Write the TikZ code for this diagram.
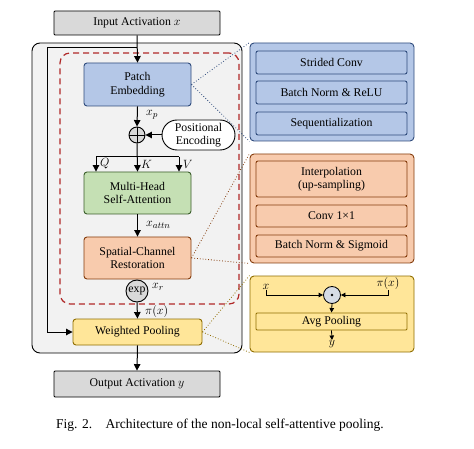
\documentclass[tikz,border=0pt]{standalone}
\usepackage{fontspec}
\setmainfont{Liberation Serif}
\usetikzlibrary{arrows.meta,calc}
\definecolor{blueF}{HTML}{B4C7E7}
\definecolor{blueD}{HTML}{2F4B7C}
\definecolor{greenF}{HTML}{C5E0B4}
\definecolor{greenD}{HTML}{3B5E2B}
\definecolor{orF}{HTML}{F8CBAD}
\definecolor{orD}{HTML}{843C0C}
\definecolor{yeF}{HTML}{FFE699}
\definecolor{yeD}{HTML}{8F6D00}
\definecolor{grayF}{HTML}{D9D9D9}
\definecolor{bgF}{HTML}{F2F2F2}
\definecolor{redD}{HTML}{B02828}
\definecolor{dotF}{HTML}{D6DCE5}
\begin{document}
\begin{tikzpicture}[x=1pt,y=-1pt,
  txt/.style={font=\fontsize{11.8}{13.5}\selectfont},
  blk/.style={draw, rounded corners=3pt, line width=0.9pt, align=center, inner sep=0pt, txt},
  sub/.style={draw, rounded corners=2pt, line width=0.9pt, align=center, inner sep=0pt, txt, minimum width=151pt},
  arr/.style={-{Triangle[length=6.5pt,width=6.5pt]}, line width=1pt},
  sarr/.style={-{Triangle[length=4.5pt,width=4.5pt]}, line width=0.8pt},
  lnk/.style={dotted, line width=0.8pt},
  lab/.style={inner sep=0pt, anchor=west, font=\fontsize{12.5}{13}\selectfont}
]
\useasboundingbox (0,0) rectangle (474,449);
% background boxes
\node[draw, line width=0.9pt, rounded corners=8pt, fill=bgF, minimum width=210pt, minimum height=310pt, inner sep=0pt] (outer) at (137,198) {};
\node[draw=redD, dash pattern=on 6pt off 4pt, line width=1.2pt, rounded corners=10pt, minimum width=179pt, minimum height=251pt, inner sep=0pt] (red) at (149.5,178.5) {};
% main column
\node[blk, fill=grayF, rounded corners=1pt, minimum width=166pt, minimum height=24pt] (in) at (137,23) {Input Activation $x$};
\node[blk, fill=blueF, draw=blueD, minimum width=107pt, minimum height=43pt] (pe) at (137.5,84.5) {Patch\\Embedding};
\node[draw, line width=0.9pt, circle, fill=grayF, minimum size=16pt, inner sep=0pt,
  path picture={\draw[line width=0.7pt] (path picture bounding box.north) -- (path picture bounding box.south) (path picture bounding box.west) -- (path picture bounding box.east);}] (op) at (137,135) {};
\node[blk, fill=white, rounded corners=15pt, minimum width=73pt, minimum height=30pt] (pos) at (198.5,135) {Positional\\Encoding};
\node[blk, fill=greenF, draw=greenD, minimum width=107pt, minimum height=42pt] (mha) at (137.5,193) {Multi-Head\\Self-Attention};
\node[blk, fill=orF, draw=orD, minimum width=107pt, minimum height=42pt] (scr) at (137.5,258) {Spatial-Channel\\Restoration};
\node[draw, line width=0.9pt, circle, fill=grayF, minimum size=22pt, inner sep=0pt, txt] (exp) at (137,291) {exp};
\node[blk, fill=yeF, draw=yeD, minimum width=129pt, minimum height=26pt] (wp) at (137.5,332) {Weighted Pooling};
\node[blk, fill=grayF, rounded corners=1pt, minimum width=166pt, minimum height=26pt] (out) at (137,384) {Output Activation $y$};
% connectors
\coordinate (j) at (137,48);
\coordinate (jl) at (47,48);
\draw[arr] (in.south) -- (pe.north);
\draw[arr] (j) -- (jl) |- (wp.west);
\draw[arr] (pe.south) -- (op.north);
\draw[arr] (pos.west) -- (op.east);
\coordinate (ql) at (96,157);
\coordinate (vr) at (179,157);
\draw[line width=1pt] (ql) -- (vr);
\draw[arr] (ql) -- (ql |- mha.north);
\draw[arr] (vr) -- (vr |- mha.north);
\draw[arr] (op.south) -- (mha.north);
\draw[arr] (mha.south) -- (scr.north);
\draw[arr] (exp.south) -- (wp.north);
\draw[arr] (wp.south) -- (out.north);
% labels
\node[lab] (lxp) at (146,115) {$x_p$};
\node[lab] (lq) at (100,164) {$Q$};
\node[lab] (lk) at (141,164) {$K$};
\node[lab] (lv) at (183,164) {$V$};
\node[lab] (lxa) at (146,225) {$x_{attn}$};
\node[lab] (lxr) at (152,287) {$x_r$};
\node[lab] (lpi) at (145,311) {$\pi(x)$};
% right panels
\node[draw=blueD, fill=blueF, line width=0.9pt, rounded corners=4pt, minimum width=164pt, minimum height=98pt, inner sep=0pt] (bp) at (332,92) {};
\node[sub, fill=blueF, draw=blueD, minimum height=23pt] (s1) at (331.5,62.5) {Strided Conv};
\node[sub, fill=blueF, draw=blueD, minimum height=23pt] (s2) at (331.5,92.5) {Batch Norm \& ReLU};
\node[sub, fill=blueF, draw=blueD, minimum height=23pt] (s3) at (331.5,123.5) {Sequentialization};
\node[draw=orD, fill=orF, line width=0.9pt, rounded corners=4pt, minimum width=164pt, minimum height=109pt, inner sep=0pt] (opn) at (332,208.5) {};
\node[sub, fill=orF, draw=orD, minimum height=36pt] (o1) at (331.5,179) {Interpolation\\(up-sampling)};
\node[sub, fill=orF, draw=orD, minimum height=22pt] (o2) at (331.5,216) {Conv 1×1};
\node[sub, fill=orF, draw=orD, minimum height=22pt] (o3) at (331.5,246) {Batch Norm \& Sigmoid};
\node[draw=yeD, fill=yeF, line width=0.9pt, rounded corners=4pt, minimum width=164pt, minimum height=76pt, inner sep=0pt] (yp) at (332,314) {};
\node[sub, fill=yeF, draw=yeD, rounded corners=1pt, minimum height=17pt] (avg) at (331.5,321.5) {Avg Pooling};
\node[draw, line width=0.8pt, circle, fill=dotF, minimum size=17pt, inner sep=0pt] (dot) at (332,295) {};
\fill (dot.center) circle (1.4pt);
\node[lab, anchor=south] (yx) at (266,290) {$x$};
\node[lab, anchor=south] (ypi) at (388,290) {$\pi(x)$};
\node[lab, anchor=north] (yy) at (332,340) {$y$};
\draw[sarr] (yx.south) |- (dot.west);
\draw[sarr] (ypi.south) |- (dot.east);
\draw[sarr] (dot.south) -- (avg.north);
\draw[sarr] (avg.south) -- (yy.north);
% dotted links
\draw[lnk, draw=blueD] (pe.east) -- (bp.north west);
\draw[lnk, draw=blueD] (pe.east) -- (bp.south west);
\draw[lnk, draw=orD] (scr.east) -- (opn.north west);
\draw[lnk, draw=orD] (scr.east) -- (opn.south west);
\draw[lnk, draw=yeD] (wp.east) -- (yp.north west);
\draw[lnk, draw=yeD] (wp.east) -- (yp.south west);
% caption
\node[inner sep=0pt, font=\fontsize{13.5}{15}\selectfont] (cap) at (220,425) {Fig. 2.\quad Architecture of the non-local self-attentive pooling.};
\end{tikzpicture}
\end{document}
